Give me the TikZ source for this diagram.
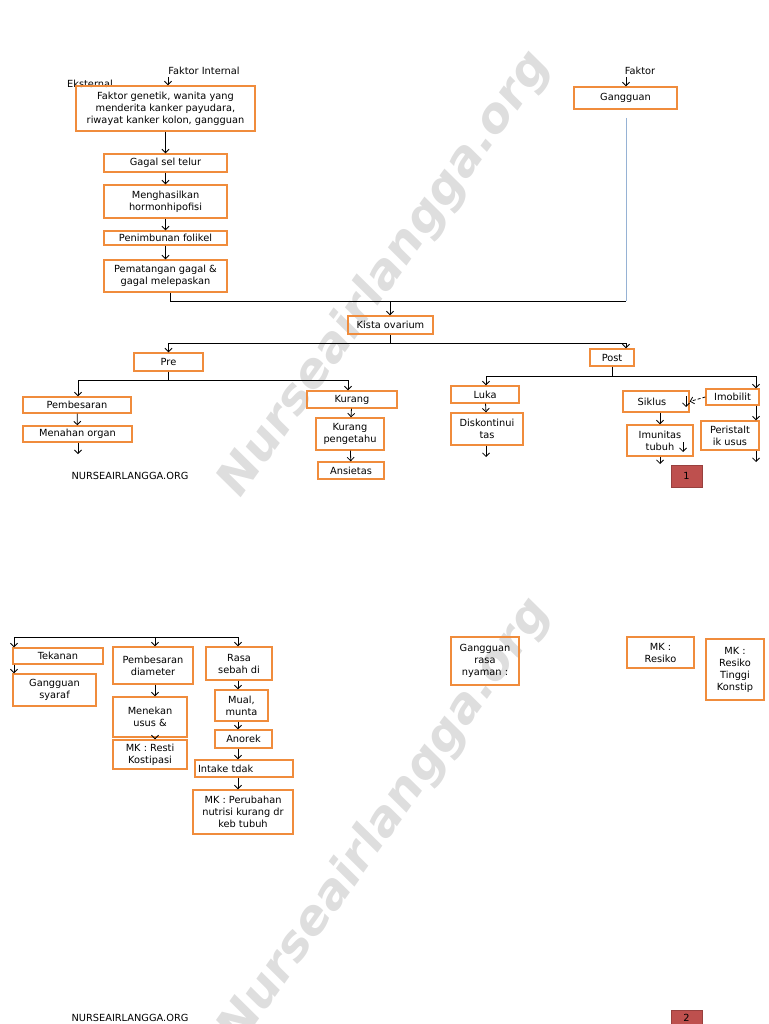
\documentclass[tikz,border=0pt]{standalone}
\usepackage{fontspec}
\setmainfont{DejaVu Sans}
\usetikzlibrary{arrows.meta}
\definecolor{boxorange}{RGB}{240,140,60}
\definecolor{lineblue}{RGB}{150,178,212}
\definecolor{pagered}{RGB}{190,80,78}
\begin{document}
\begin{tikzpicture}[x=1pt, y=-1pt, line width=0.8pt,
    box/.style={draw=boxorange, line width=1.4pt, align=center, inner sep=1pt, font=\fontsize{9.8}{12}\selectfont},
    lbl/.style={inner sep=0pt, font=\fontsize{9.8}{12}\selectfont},
    arr/.style={-{Straight Barb[length=3.5pt,width=7pt]}},
    wmark/.style={text=black!13, font=\fontsize{52}{52}\selectfont\bfseries, xscale=0.85, rotate=50}]

    \useasboundingbox (0,0) rectangle (768,1024);

    % watermarks
    \node[wmark] (wm1) at (385,275) {Nurseairlangga.org};
    \node[wmark] (wm2) at (385,822) {Nurseairlangga.org};

    % page 1, causes
    \node[lbl] (fint) at (204,71) {Faktor Internal};
    \node[lbl] (feks) at (90,84) {Eksternal};
    \node[lbl] (fkt) at (640,71) {Faktor};
    \node[box, minimum width=179, minimum height=45] (gen) at (165.5,108.5) {Faktor genetik, wanita yang\\menderita kanker payudara,\\riwayat kanker kolon, gangguan};
    \node[box, minimum width=103, minimum height=22] (gg1) at (625.5,98) {Gangguan};
    \node[box, minimum width=123, minimum height=18] (sel) at (165.5,163) {Gagal sel telur};
    \node[box, minimum width=123, minimum height=33] (hip) at (165.5,201.5) {Menghasilkan\\hormonhipofisi};
    \node[box, minimum width=123, minimum height=14] (fol) at (165.5,238) {Penimbunan folikel};
    \node[box, minimum width=123, minimum height=32] (mat) at (165.5,276) {Pematangan gagal \&\\gagal melepaskan};

    \coordinate (a0) at (168,77);
    \coordinate (a1) at (626,77);
    \draw[arr] (a0) -- (a0 |- gen.north);
    \draw[arr] (a1) -- (a1 |- gg1.north);
    \draw[arr] (gen) -- (sel);
    \draw[arr] (sel) -- (hip);
    \draw[arr] (hip) -- (fol);
    \draw[arr] (fol) -- (mat);

    % join
    \coordinate (jl) at (170,301);
    \coordinate (jr) at (626,301);
    \coordinate (jb) at (626,118);
    \coordinate (jk) at (390,301);
    \draw[lineblue] (jb) -- (jr);
    \draw (mat.south -| jl) -- (jl) -- (jr);
    \node[box, minimum width=85, minimum height=18] (kista) at (390.5,325) {Kista ovarium};
    \draw[arr] (jk) -- (jk |- kista.north);

    % pre / post
    \node[box, minimum width=69, minimum height=18] (pre) at (168.5,362) {Pre};
    \node[box, minimum width=44, minimum height=17] (post) at (612,357.5) {Post};
    \coordinate (bk) at (626,343);
    \draw (kista.south) -- (kista.south |- bk);
    \draw (pre.north |- bk) -- (bk);
    \draw[arr] (pre.north |- bk) -- (pre.north);
    \draw[arr] (bk) -- (bk |- post.north);

    % pre branch
    \node[box, minimum width=108, minimum height=16] (pemb) at (77,405) {Pembesaran};
    \node[box, minimum width=109, minimum height=16] (organ) at (77.5,434) {Menahan organ};
    \node[box, minimum width=90, minimum height=17] (kur) at (352,399.5) {Kurang};
    \node[box, minimum width=68, minimum height=32] (peng) at (350,434) {Kurang\\pengetahu};
    \node[box, minimum width=66, minimum height=17] (ans) at (351,470.5) {Ansietas};
    \coordinate (bp1) at (78,380);
    \coordinate (bp2) at (348,380);
    \coordinate (e1) at (78,454);
    \draw (pre.south) -- (pre.south |- bp1);
    \draw (bp1) -- (bp2);
    \draw[arr] (bp1) -- (bp1 |- pemb.north);
    \draw[arr] (bp2) -- (bp2 |- kur.north);
    \draw[arr] (pemb) -- (organ);
    \draw[arr] (e1 |- organ.south) -- (e1);
    \draw[arr] (kur) -- (peng);
    \draw[arr] (peng) -- (ans);

    % post branch
    \node[box, minimum width=68, minimum height=17] (luka) at (485,394.5) {Luka};
    \node[box, minimum width=72, minimum height=32] (disk) at (487,429) {Diskontinui\\tas};
    \node[box, minimum width=66, minimum height=21] (sik) at (656,401.5) {Siklus\hspace{8pt}};
    \node[box, minimum width=53, minimum height=16] (imo) at (732.5,397) {Imobilit};
    \node[box, minimum width=66, minimum height=31] (imu) at (660,440.5) {Imunitas\\tubuh\hspace{10pt}};
    \node[box, minimum width=58, minimum height=29] (per) at (730,435.5) {Peristalt\\ik usus};
    \coordinate (bq1) at (486,376);
    \coordinate (bq2) at (756,376);
    \coordinate (e2) at (486,457);
    \coordinate (e3) at (660,464);
    \coordinate (e4) at (756,462);
    \coordinate (s1) at (686,396);
    \coordinate (s2) at (686,407);
    \coordinate (m1) at (683,442);
    \coordinate (m2) at (683,452);
    \draw (post.south) -- (post.south |- bq1);
    \draw (bq1) -- (bq2);
    \draw[arr] (bq1) -- (bq1 |- luka.north);
    \draw[arr] (bq2) -- (bq2 |- imo.north);
    \draw[arr] (luka) -- (disk);
    \draw[arr] (e2 |- disk.south) -- (e2);
    \draw[arr, densely dashed] (imo.west) -- (sik.east);
    \draw[arr] (s1) -- (s2);
    \draw[arr] (e3 |- sik.south) -- (e3 |- imu.north);
    \draw[arr] (m1) -- (m2);
    \draw[arr] (e3 |- imu.south) -- (e3);
    \draw[arr] (e4 |- imo.south) -- (e4 |- per.north);
    \draw[arr] (e4 |- per.south) -- (e4);

    % page footer 1
    \node[lbl] (ft1) at (130,476) {NURSEAIRLANGGA.ORG};
    \node[draw=pagered!80!black, fill=pagered, minimum width=31, minimum height=22, lbl] (pg1) at (686.5,476) {1};

    % page 2
    \node[box, minimum width=90, minimum height=16] (tek) at (58,656) {Tekanan};
    \node[box, minimum width=83, minimum height=32] (syr) at (54.5,690) {Gangguan\\syaraf};
    \node[box, minimum width=80, minimum height=37] (dia) at (153,665.5) {Pembesaran\\diameter};
    \node[box, minimum width=74, minimum height=40] (usus) at (150,717) {Menekan\\usus \&};
    \node[box, minimum width=74, minimum height=29] (rest) at (150,754.5) {MK : Resti\\Kostipasi};
    \node[box, minimum width=66, minimum height=33] (seb) at (239,663.5) {Rasa\\sebah di};
    \node[box, minimum width=53, minimum height=31] (mual) at (241.5,705.5) {Mual,\\munta};
    \node[box, minimum width=57, minimum height=18] (anr) at (243.5,739) {Anorek};
    \node[box, minimum width=98, minimum height=17, text width=92, align=left] (int) at (244,768.5) {Intake tdak};
    \node[box, minimum width=100, minimum height=44] (nut) at (243,812) {MK : Perubahan\\nutrisi kurang dr\\keb tubuh};
    \node[box, minimum width=68, minimum height=48] (nyam) at (485,661) {Gangguan\\rasa\\nyaman :};
    \node[box, minimum width=67, minimum height=31] (res) at (660.5,652.5) {MK :\\Resiko};
    \node[box, minimum width=58, minimum height=61] (kon) at (735,669.5) {MK :\\Resiko\\Tinggi\\Konstip};

    \coordinate (bt1) at (14,637);
    \coordinate (bt2) at (155,637);
    \coordinate (bt3) at (238,637);
    \draw (bt1) -- (bt3);
    \draw[arr] (bt1) -- (bt1 |- tek.north);
    \draw[arr] (bt2) -- (bt2 |- dia.north);
    \draw[arr] (bt3) -- (bt3 |- seb.north);
    \draw[arr] (bt1 |- tek.south) -- (bt1 |- syr.north);
    \draw[arr] (bt2 |- dia.south) -- (bt2 |- usus.north);
    \draw[arr] (bt2 |- usus.south) -- (bt2 |- rest.north);
    \draw[arr] (bt3 |- seb.south) -- (bt3 |- mual.north);
    \draw[arr] (bt3 |- mual.south) -- (bt3 |- anr.north);
    \draw[arr] (bt3 |- anr.south) -- (bt3 |- int.north);
    \draw[arr] (bt3 |- int.south) -- (bt3 |- nut.north);

    % page footer 2
    \node[lbl] (ft2) at (130,1018) {NURSEAIRLANGGA.ORG};
    \node[draw=pagered!80!black, fill=pagered, minimum width=31, minimum height=16, lbl] (pg2) at (686.5,1018) {2};
\end{tikzpicture}
\end{document}
